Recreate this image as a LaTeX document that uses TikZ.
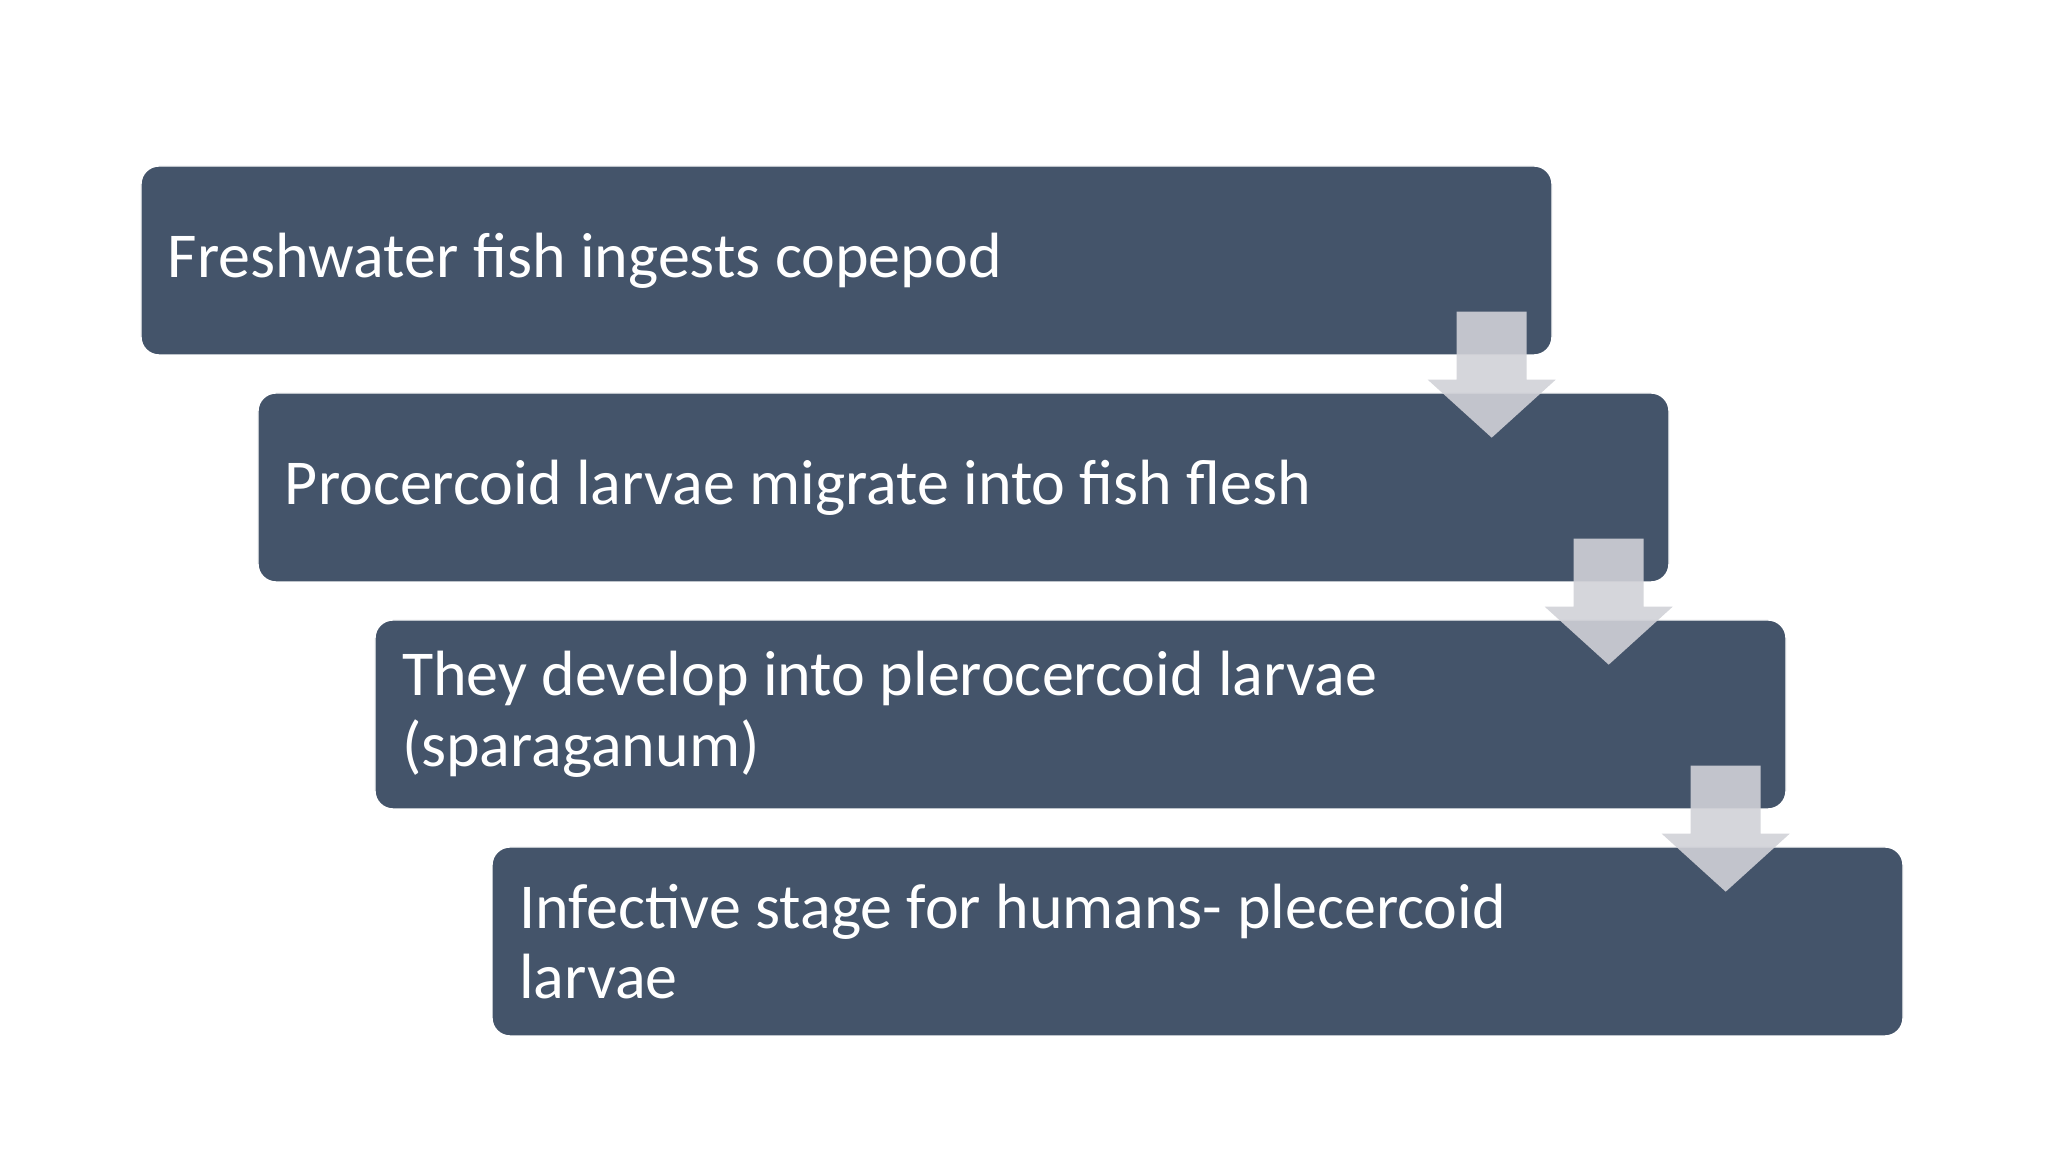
\documentclass[tikz,border=0pt]{standalone}
\usepackage{fontspec}
\setmainfont{Carlito}
\usepackage{tikz}
\usetikzlibrary{calc}
\definecolor{boxblue}{HTML}{44546A}
\definecolor{arrowgray}{HTML}{D0D1D7}

\begin{document}
\begin{tikzpicture}
	[every node/.style={rectangle, rounded corners=0.18cm, fill=boxblue, draw=white, line width=0.4pt,
		minimum width=14.11cm, minimum height=1.89cm, inner xsep=0.27cm, text width=13.57cm,
		align=left, text=white, font=\fontsize{18.2pt}{20.1pt}\selectfont,
		execute at begin node={\spaceskip=0.226em\relax}}]
	\tikzstyle{downarrow} = [fill=arrowgray, fill opacity=0.9, draw=none];
	\useasboundingbox (0,0) rectangle (20.48,11.52);

	\node (b1) at (8.465,8.915) {Freshwater fish ingests copepod};
	\node (b2) at (9.635,6.645) {Procercoid larvae migrate into fish flesh};
	\node (b3) at (10.805,4.375) {They develop into plerocercoid larvae\\(sparaganum)};
	\node (b4) at (11.975,2.105) {Infective stage for humans- plecercoid\\larvae};

	\foreach \a in {b1,b2,b3}
	{
		\coordinate (o) at ($(\a.south east)+(-0.61,0)$);
		\fill[downarrow] ($(o)+(-0.35,0.44)$) -- ($(o)+(0.35,0.44)$) -- ($(o)+(0.35,-0.24)$)
			-- ($(o)+(0.64,-0.24)$) -- ($(o)+(0,-0.82)$) -- ($(o)+(-0.64,-0.24)$)
			-- ($(o)+(-0.35,-0.24)$) -- cycle;
	}
\end{tikzpicture}
\end{document}
